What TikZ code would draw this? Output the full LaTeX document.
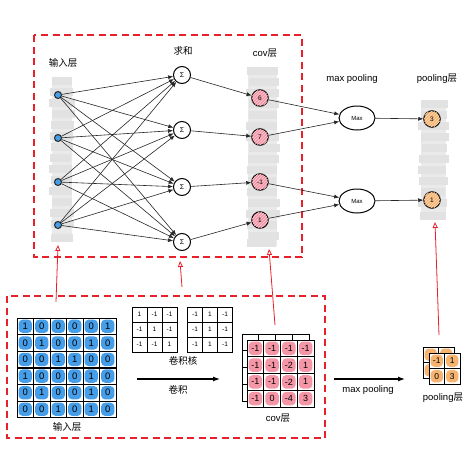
\documentclass[tikz,border=0pt]{standalone}
\usepackage{fontspec}
\setmainfont{Liberation Sans}
\newfontfamily\cjk{Noto Sans CJK SC}
\usetikzlibrary{arrows.meta,shapes.geometric,patterns}
\definecolor{dred}{RGB}{232,32,44}
\definecolor{stripe}{RGB}{226,226,226}
\definecolor{stripeb}{RGB}{234,234,234}
\definecolor{inblue}{RGB}{70,158,232}
\definecolor{covpink}{RGB}{244,150,166}
\definecolor{poolor}{RGB}{246,180,112}
\tikzset{
 lbl/.style={font=\fontsize{9.5}{10}\selectfont},
 cjklbl/.style={font=\cjk\fontsize{9.5}{10}\selectfont},
 innode/.style={circle,draw=black!85,fill=inblue,line width=1pt,inner sep=0,minimum size=7pt},
 sumnode/.style={circle,draw,line width=1pt,fill=white,minimum size=17pt,inner sep=0,font=\fontsize{7}{7}\selectfont},
 covnode/.style={circle,draw,line width=1pt,fill=covpink,minimum size=16.5pt,inner sep=0,font=\fontsize{6.5}{7}\selectfont,
   postaction={pattern=north east lines,pattern color=white!55!covpink}},
 poolnode/.style={circle,draw,line width=1pt,fill=poolor,minimum size=16.5pt,inner sep=0,font=\fontsize{6.5}{7}\selectfont,
   postaction={pattern=north east lines,pattern color=white!55!poolor}},
 maxnode/.style={ellipse,draw,line width=1pt,fill=white,minimum width=36pt,minimum height=24pt,inner sep=0,font=\fontsize{6}{6}\selectfont},
 conn/.style={-{Latex[length=5pt,width=4pt]},line width=0.6pt,black!85},
 bigarr/.style={-{Latex[length=7pt,width=5pt]},line width=1.2pt,black},
 redarr/.style={-{Triangle[open,length=6pt,width=5pt]},dred,line width=0.8pt},
 redbox/.style={dred,line width=1.6pt,dash pattern=on 7pt off 4.5pt},
 blobcell/.style={rectangle,draw,line width=0.7pt,inner sep=0,minimum width=#1,minimum height=#1},
 blob/.style={path picture={\fill[#1,rounded corners=4pt] ([shift={(1.6pt,1.6pt)}]path picture bounding box.south west) rectangle ([shift={(-1.6pt,-1.6pt)}]path picture bounding box.north east);}},
 kcell/.style={rectangle,draw,line width=0.6pt,inner sep=0,minimum size=15pt,font=\fontsize{6.5}{7}\selectfont},
}
\begin{document}
\begin{tikzpicture}[x=1pt,y=-1pt]
\useasboundingbox[fill=white] (0,0) rectangle (474,474);
% gray stripe columns
\pgfmathsetseed{7}
\fill[stripeb] (52,78) rectangle (72,241);
\foreach \yy in {77,88,...,230}{
  \pgfmathsetmacro\dxa{rnd*4-2}\pgfmathsetmacro\dxb{rnd*4-2}
  \fill[stripe] (51+\dxa,\yy) rectangle (73+\dxb,\yy+8);}
\fill[stripe] (51,234) rectangle (73,242);
\fill[stripeb] (248,68) rectangle (277,246);
\foreach \yy in {67,78,...,232}{
  \pgfmathsetmacro\dxa{rnd*4-2}\pgfmathsetmacro\dxb{rnd*4-2}
  \fill[stripe] (247+\dxa,\yy) rectangle (278+\dxb,\yy+8);}
\fill[stripe] (247,239) rectangle (276,247);
\fill[stripeb] (421,101) rectangle (446,219);
\foreach \yy in {100,111,...,205}{
  \pgfmathsetmacro\dxa{rnd*4-2}\pgfmathsetmacro\dxb{rnd*4-2}
  \fill[stripe] (420+\dxa,\yy) rectangle (447+\dxb,\yy+8);}
\fill[stripe] (420,212) rectangle (446,220);
% dashed boxes
\draw[redbox] (34,35) rectangle (302,257);
\draw[redbox] (7,296) rectangle (325,438);
% top labels
\node[cjklbl] (tin) at (63,63) {输入层};
\node[cjklbl] (tsum) at (183,51) {求和};
\node[lbl] (tcov) at (265,53) {cov{\cjk 层}};
\node[lbl] (tmp) at (352,79) {max pooling};
\node[lbl] (tpl) at (437,79) {pooling{\cjk 层}};
% network nodes
\foreach \i/\y in {1/95,2/138,3/182,4/225} \node[innode] (i\i) at (58,\y) {};
\foreach \i/\y in {1/75,2/130,3/187,4/242} \node[sumnode] (s\i) at (182,\y) {Σ};
\foreach \i/\y/\v in {1/98/6,2/137/7,3/182/-1,4/220/1} \node[covnode] (c\i) at (260,\y) {\v};
\node[maxnode] (m1) at (357,118) {Max};
\node[maxnode] (m2) at (357,201) {Max};
\node[poolnode] (p1) at (432,119) {3};
\node[poolnode] (p2) at (432,200) {1};
\foreach \a in {1,...,4}{\foreach \b in {1,...,4}{\draw[conn] (i\a) -- (s\b);}}
\foreach \a in {1,...,4}{\draw[conn] (s\a) -- (c\a);}
\draw[conn] (c1) -- (m1); \draw[conn] (c2) -- (m1);
\draw[conn] (c3) -- (m2); \draw[conn] (c4) -- (m2);
\draw[conn] (m1) -- (p1); \draw[conn] (m2) -- (p2);
% input grid
\foreach \v [count=\k from 0] in {1,0,0,0,0,1, 0,1,0,0,1,0, 0,0,1,1,0,0, 1,0,0,0,1,0, 0,1,0,0,1,0, 0,0,1,0,1,0}{
  \pgfmathtruncatemacro\rr{int(\k/6)}\pgfmathtruncatemacro\cc{mod(\k,6)}
  \node[blobcell=16.5pt,blob=inblue,font=\fontsize{9.5}{10}\selectfont] (g\k) at (17+8.25+16.5*\cc,318+8.3+16.6*\rr) {\v};}
\node[cjklbl] (bin) at (67,427) {输入层};
% kernels
\foreach \v [count=\k from 0] in {1,-1,-1,-1,1,-1,-1,-1,1}{
  \pgfmathtruncatemacro\rr{int(\k/3)}\pgfmathtruncatemacro\cc{mod(\k,3)}
  \node[kcell] (ka\k) at (132+7.5+15*\cc,307+7.5+15*\rr) {\v};}
\foreach \v [count=\k from 0] in {-1,1,-1,-1,1,-1,-1,1,-1}{
  \pgfmathtruncatemacro\rr{int(\k/3)}\pgfmathtruncatemacro\cc{mod(\k,3)}
  \node[kcell] (kb\k) at (187.5+7.5+15*\cc,307+7.5+15*\rr) {\v};}
\node[cjklbl] (kl) at (183,361) {卷积核};
\coordinate (ca0) at (137,379); \coordinate (ca1) at (220,379);
\draw[bigarr] (ca0) -- (ca1);
\node[cjklbl] (kj) at (178,390) {卷积};
% cov grid (back + front)
\foreach \k in {0,...,15}{
  \pgfmathtruncatemacro\rr{int(\k/4)}\pgfmathtruncatemacro\cc{mod(\k,4)}
  \node[blobcell=16.75pt,fill=white] (cb\k) at (242+8.375+16.75*\cc,334+8.375+16.75*\rr) {};}
\foreach \v [count=\k from 0] in {-1,-1,-1,-1, -1,-1,-2,1, -1,-1,-2,1, -1,0,-4,3}{
  \pgfmathtruncatemacro\rr{int(\k/4)}\pgfmathtruncatemacro\cc{mod(\k,4)}
  \node[blobcell=16.75pt,fill=white,blob=covpink,font=\fontsize{9}{10}\selectfont] (cf\k) at (247+8.375+16.75*\cc,340+8.375+16.75*\rr) {\v};}
\node[lbl] (bcov) at (278,418) {cov{\cjk 层}};
\coordinate (pa0) at (334,379); \coordinate (pa1) at (405,379);
\draw[bigarr] (pa0) -- (pa1);
\node[lbl] (bmp) at (368,390) {max pooling};
% pooling grid
\foreach \k in {0,...,3}{
  \pgfmathtruncatemacro\rr{int(\k/2)}\pgfmathtruncatemacro\cc{mod(\k,2)}
  \node[blobcell=15.5pt,fill=white,blob=poolor] (pb\k) at (423+7.75+15.5*\cc,347+7.75+15.5*\rr) {};}
\foreach \v [count=\k from 0] in {-1,1,0,3}{
  \pgfmathtruncatemacro\rr{int(\k/2)}\pgfmathtruncatemacro\cc{mod(\k,2)}
  \node[blobcell=15.5pt,fill=white,blob=poolor,font=\fontsize{8.5}{9}\selectfont] (pf\k) at (429+7.75+15.5*\cc,353+7.75+15.5*\rr) {\v};}
\node[lbl] (bpl) at (443,398) {pooling{\cjk 层}};
% red arrows
\coordinate (r1s) at (56,302); \coordinate (r1e) at (58,245);
\coordinate (r2s) at (182,287); \coordinate (r2e) at (180,261);
\coordinate (r3s) at (275,325); \coordinate (r3e) at (269,249);
\coordinate (r4s) at (439,335); \coordinate (r4e) at (435,222);
\draw[redarr] (r1s) -- (r1e);
\draw[redarr] (r2s) -- (r2e);
\draw[redarr] (r3s) -- (r3e);
\draw[redarr] (r4s) -- (r4e);
\end{tikzpicture}
\end{document}
